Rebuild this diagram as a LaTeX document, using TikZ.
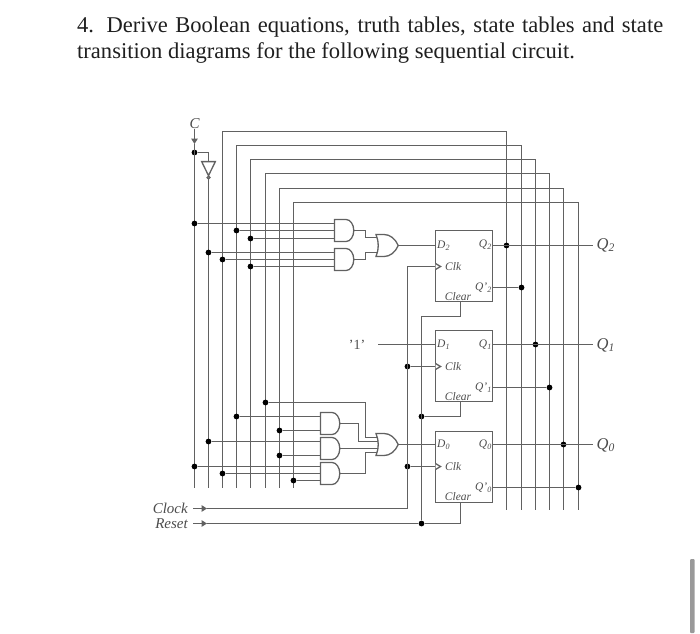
\documentclass[tikz,border=0pt]{standalone}
\usepackage{fontspec}
\setmainfont{Liberation Serif}
\usepackage{tikz}
\usetikzlibrary{arrows.meta,shapes.gates.logic.US}
\definecolor{wirecol}{gray}{0.38}
\definecolor{labelcol}{gray}{0.3}
\tikzset{
  wire/.style={draw=wirecol,line width=1.3pt},
  feed/.style={wire,-{Triangle[length=5.5pt,width=6.5pt]}},
  dot/.style={circle,fill=black,inner sep=0pt,minimum size=5.8pt},
  andg/.style={and gate US,logic gate inputs=nn,draw=wirecol,line width=1.3pt,inner sep=0pt,outer sep=0pt,minimum height=22pt,minimum width=21.5pt,transform shape,xscale=0.7},
  org/.style={or gate US,logic gate inputs=nn,draw=wirecol,fill=white,line width=1.3pt,inner sep=0pt,outer sep=0pt,minimum height=22pt,minimum width=22pt,transform shape,xscale=0.74},
  ff/.style={draw=wirecol,line width=1.3pt,minimum width=57pt,minimum height=71pt,inner sep=0pt,outer sep=0pt},
  pin/.style={text=labelcol,font=\fontsize{11.5}{11.5}\selectfont\itshape,inner sep=0pt},
  inlabel/.style={text=labelcol,font=\fontsize{15}{15}\selectfont\itshape,inner sep=0pt},
  outlabel/.style={text=labelcol,font=\fontsize{16.5}{16.5}\selectfont\itshape,inner sep=0pt,anchor=west},
  clkmark/.style={draw=wirecol,fill=white,line width=1.3pt}
}
\begin{document}
\begin{tikzpicture}[x=1pt,y=-1pt]
  \useasboundingbox (0,0) rectangle (700,633);
  \node[anchor=north west,inner sep=0pt,text width=586pt,align=justify,text=black!88,font=\fontsize{22.55}{26}\selectfont] (question) at (77,16.5)
    {\makebox[586pt][s]{4. Derive Boolean equations, truth tables, state tables and state}\\ transition diagrams for the following sequential circuit.};
  % flip-flops
  \node[ff] (ff2) at (464,266) {};
  \node[ff] (ff1) at (464,366) {};
  \node[ff] (ff0) at (464,467) {};
  \node[pin,anchor=west] (d2) at (437,245.5) {D\textsubscript{2}};
  \node[pin,anchor=west] (d1) at (437,344.5) {D\textsubscript{1}};
  \node[pin,anchor=west] (d0) at (437,444.5) {D\textsubscript{0}};
  \node[pin,anchor=west] (clk2) at (445,266.5) {Clk};
  \node[pin,anchor=west] (clk1) at (445,366.5) {Clk};
  \node[pin,anchor=west] (clk0) at (445,466.5) {Clk};
  \node[pin,anchor=west] (clr2) at (444.7,296.5) {Clear};
  \node[pin,anchor=west] (clr1) at (444.7,396.5) {Clear};
  \node[pin,anchor=west] (clr0) at (444.7,496.5) {Clear};
  \node[pin,anchor=east] (o2) at (492,245) {Q\textsubscript{2}};
  \node[pin,anchor=east] (o1) at (492,344.5) {Q\textsubscript{1}};
  \node[pin,anchor=east] (o0) at (492,444.5) {Q\textsubscript{0}};
  \node[pin,anchor=east] (n2) at (492,287.5) {Q'\textsubscript{2}};
  \node[pin,anchor=east] (n1) at (492,387.5) {Q'\textsubscript{1}};
  \node[pin,anchor=east] (n0) at (492,487.5) {Q'\textsubscript{0}};
  % and gates
  \node[andg] (a1) at (343.5,230.5) {};
  \node[andg] (a2) at (343.5,259.5) {};
  \node[andg] (a3) at (329.5,423.5) {};
  \node[andg] (a4) at (329.5,448.5) {};
  \node[andg] (a5) at (329.5,473.5) {};
  \node[not gate US,draw=wirecol,line width=1.3pt,rotate=-90,inner sep=0pt,outer sep=0pt,minimum height=14.6pt,minimum width=13pt,logic gate inverted radius=1.8pt,transform shape,scale=0.8] (inv) at (208.5,166.5) {};
  % feedback lines
  \coordinate (q2l) at (222.5,487.5);
  \coordinate (q2t) at (506.5,131.5);
  \coordinate (q2r) at (506.5,509.5);
  \coordinate (m2l) at (236.5,487.5);
  \coordinate (m2t) at (521.5,145.5);
  \coordinate (m2r) at (521.5,509.5);
  \coordinate (q1l) at (250.5,487.5);
  \coordinate (q1t) at (535.5,159.5);
  \coordinate (q1r) at (535.5,509.5);
  \coordinate (m1l) at (265.5,487.5);
  \coordinate (m1t) at (549.5,173.5);
  \coordinate (m1r) at (549.5,509.5);
  \coordinate (q0l) at (279.5,487.5);
  \coordinate (q0t) at (563.5,188.5);
  \coordinate (q0r) at (563.5,509.5);
  \coordinate (m0l) at (293.5,487.5);
  \coordinate (m0t) at (578.5,202.5);
  \coordinate (m0r) at (578.5,509.5);
  \draw[wire] (q2l) |- (q2t) -- (q2r);
  \draw[wire] (m2l) |- (m2t) -- (m2r);
  \draw[wire] (q1l) |- (q1t) -- (q1r);
  \draw[wire] (m1l) |- (m1t) -- (m1r);
  \draw[wire] (q0l) |- (q0t) -- (q0r);
  \draw[wire] (m0l) |- (m0t) -- (m0r);
  % input C
  \node[inlabel] (cin) at (194.5,124) {C};
  \coordinate (cend) at (194.5,487.5);
  \coordinate (nend) at (208.5,487.5);
  \coordinate (ctip) at (194.5,144);
  \node[dot] (j0) at (194.5,152.5) {};
  \draw[feed] (cin) -- (ctip);
  \draw[wire] (ctip) -- (cend);
  \draw[wire] (j0) -| (inv.input);
  \draw[wire] (inv.output) -- (nend);
  % top gate inputs
  \node[dot] (j1) at (194.5,223.5) {};
  \node[dot] (j2) at (236.5,230.5) {};
  \node[dot] (j3) at (250.5,238.5) {};
  \node[dot] (j4) at (208.5,252.5) {};
  \node[dot] (j5) at (222.5,259.5) {};
  \node[dot] (j6) at (250.5,266.5) {};
  \coordinate (or2a) at (380,237.5);
  \coordinate (or2b) at (380,252.5);
  \draw[wire] (j1) -- (j1 -| a1.west);
  \draw[wire] (j2) -- (j2 -| a1.west);
  \draw[wire] (j3) -- (j3 -| a1.west);
  \draw[wire] (j4) -- (j4 -| a2.west);
  \draw[wire] (j5) -- (j5 -| a2.west);
  \draw[wire] (j6) -- (j6 -| a2.west);
  \draw[wire] (a1.east) -- (365.5,230.5) |- (or2a);
  \draw[wire] (a2.east) -- (365.5,259.5) |- (or2b);
  % bottom gate inputs
  \node[dot] (j7) at (265.5,402.5) {};
  \node[dot] (j8) at (236.5,416.5) {};
  \node[dot] (j9) at (279.5,430.5) {};
  \node[dot] (j10) at (208.5,441.5) {};
  \node[dot] (j11) at (279.5,455.5) {};
  \node[dot] (j12) at (194.5,466.5) {};
  \node[dot] (j13) at (222.5,473.5) {};
  \node[dot] (j14) at (293.5,480.5) {};
  \coordinate (or0a) at (380,437.5);
  \coordinate (or0b) at (380,441.5);
  \coordinate (or0c) at (380,448.5);
  \coordinate (or0d) at (380,452.5);
  \draw[wire] (j8) -- (j8 -| a3.west);
  \draw[wire] (j9) -- (j9 -| a3.west);
  \draw[wire] (j10) -- (j10 -| a4.west);
  \draw[wire] (j11) -- (j11 -| a4.west);
  \draw[wire] (j12) -- (j12 -| a5.west);
  \draw[wire] (j13) -- (j13 -| a5.west);
  \draw[wire] (j14) -- (j14 -| a5.west);
  \draw[wire] (j7) -- (365.5,402.5) |- (or0a);
  \draw[wire] (a3.east) -- (358.5,423.5) |- (or0b);
  \draw[wire] (a4.east) -- (or0c);
  \draw[wire] (a5.east) -- (365.5,473.5) |- (or0d);
  % or gates
  \node[org] (or2) at (385.5,245.5) {};
  \node[org] (or0) at (385.5,444.5) {};
  \draw[wire] (or2.output) -- (ff2.west |- or2.output);
  \draw[wire] (or0.output) -- (ff0.west |- or0.output);
  % constant input
  \node[text=labelcol,font=\fontsize{14}{14}\selectfont] (one) at (357,345) {'1'};
  \coordinate (onew) at (378,344.5);
  \draw[wire] (onew) -- (ff1.west |- onew);
  % clock and reset
  \node[inlabel,anchor=east] (clock) at (188,508) {Clock};
  \node[inlabel,anchor=east] (reset) at (188,524) {Reset};
  \coordinate (clks) at (193,508.5);
  \coordinate (clkm) at (207,508.5);
  \coordinate (clkc) at (407.5,508.5);
  \coordinate (rsts) at (193,523.5);
  \coordinate (rstm) at (207,523.5);
  \coordinate (clkt) at (407.5,266.5);
  \coordinate (rstt) at (421.5,316.5);
  \node[dot] (j15) at (407.5,366.5) {};
  \node[dot] (j16) at (407.5,466.5) {};
  \node[dot] (j17) at (421.5,416.5) {};
  \node[dot] (j18) at (421.5,523.5) {};
  \draw[feed] (clks) -- (clkm);
  \draw[wire] (clkm) -- (clkc) -- (clkt) -- (ff2.west |- clkt);
  \draw[wire] (j15) -- (ff1.west |- j15);
  \draw[wire] (j16) -- (ff0.west |- j16);
  \draw[feed] (rsts) -- (rstm);
  \draw[wire] (rstm) -- (j18) -- (rstt) -- (460.5,316.5) -- (460.5,301.5);
  \draw[wire] (j17) -- (460.5,416.5) -- (460.5,401.5);
  \draw[wire] (j18) -- (460.5,523.5) -- (460.5,502.5);
  \draw[clkmark] (ff2.west |- clkt) ++(0,-3) -- ++(5,3) -- ++(-5,3);
  \draw[clkmark] (ff1.west |- j15) ++(0,-3) -- ++(5,3) -- ++(-5,3);
  \draw[clkmark] (ff0.west |- j16) ++(0,-3) -- ++(5,3) -- ++(-5,3);
  % outputs
  \node[dot] (j19) at (506.5,245.5) {};
  \node[dot] (j20) at (521.5,287.5) {};
  \node[dot] (j21) at (535.5,344.5) {};
  \node[dot] (j22) at (549.5,387.5) {};
  \node[dot] (j23) at (563.5,444.5) {};
  \node[dot] (j24) at (578.5,487.5) {};
  \node[outlabel] (out2) at (596.5,245) {Q\textsubscript{2}};
  \node[outlabel] (out1) at (596.5,345) {Q\textsubscript{1}};
  \node[outlabel] (out0) at (596.5,445) {Q\textsubscript{0}};
  \draw[wire] (ff2.east |- j19) -- (592.7,245.5);
  \draw[wire] (ff1.east |- j21) -- (592.7,344.5);
  \draw[wire] (ff0.east |- j23) -- (592.7,444.5);
  \draw[wire] (ff2.east |- j20) -- (j20);
  \draw[wire] (ff1.east |- j22) -- (j22);
  \draw[wire] (ff0.east |- j24) -- (j24);
  % scroll bar
  \fill[gray!80,rounded corners=1pt] (690,559) rectangle (694.7,633);
\end{tikzpicture}
\end{document}
